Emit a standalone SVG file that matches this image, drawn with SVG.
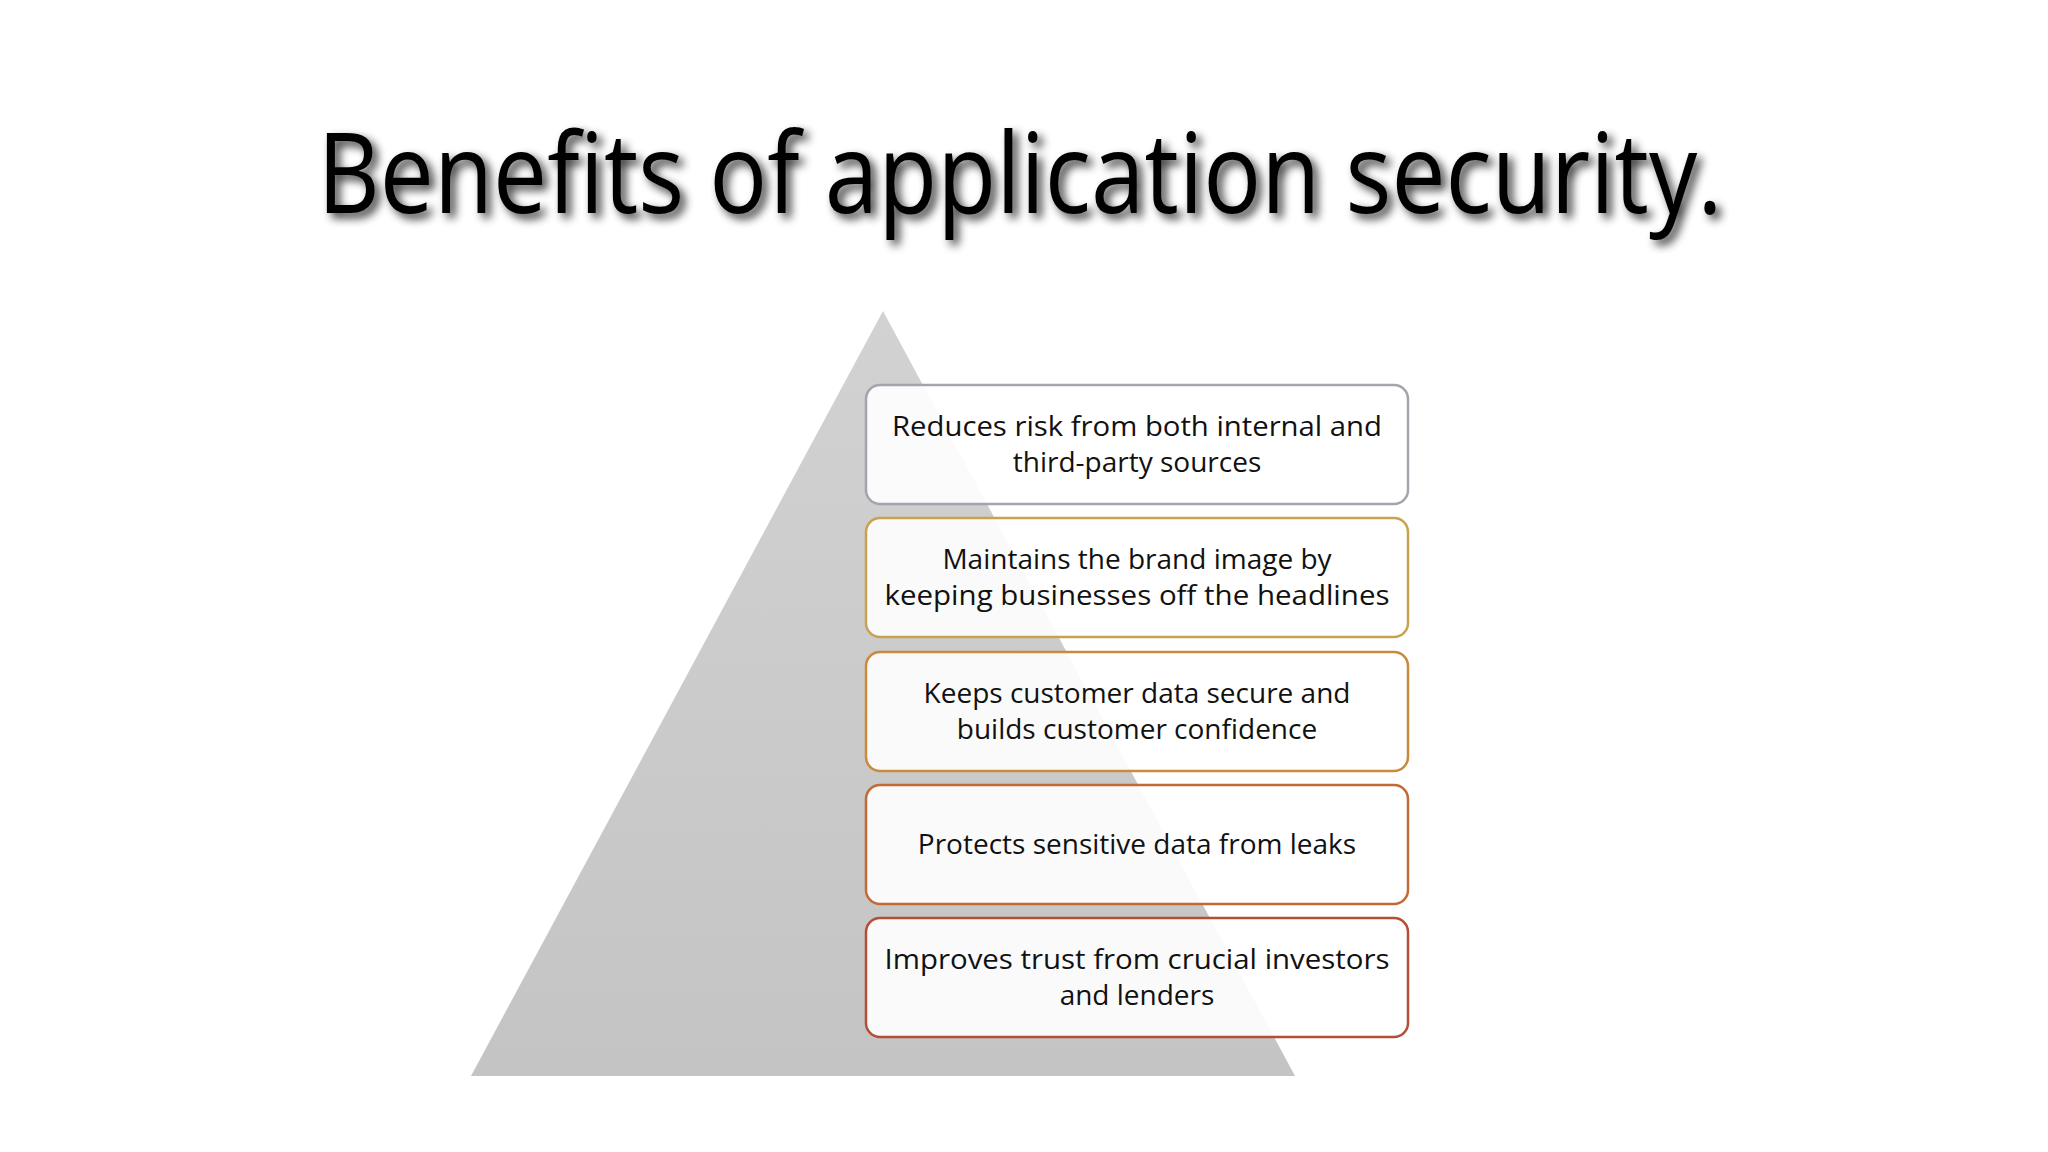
<svg xmlns="http://www.w3.org/2000/svg" width="2048" height="1152" viewBox="0 0 2048 1152">
<defs>
<filter id="sh" x="-10%" y="-30%" width="120%" height="160%"><feGaussianBlur in="SourceAlpha" stdDeviation="5"/><feOffset dx="5" dy="5"/><feComponentTransfer><feFuncA type="linear" slope="0.8"/></feComponentTransfer><feMerge><feMergeNode/><feMergeNode in="SourceGraphic"/></feMerge></filter>
<linearGradient id="tri" x1="0" y1="0" x2="0" y2="1"><stop offset="0" stop-color="#d2d2d2"/><stop offset="1" stop-color="#c4c4c4"/></linearGradient>
</defs>
<style>
.box{fill:#ffffff;fill-opacity:0.9;stroke-width:2.5}
.t{font-family:"Open Sans","Noto Sans",sans-serif;font-size:28px;fill:#111;text-anchor:middle}
</style>
<rect width="2048" height="1152" fill="#fff"/>
<text x="1020" y="213" font-family="Open Sans,Noto Sans,sans-serif" font-size="112" text-anchor="middle" textLength="1405" lengthAdjust="spacingAndGlyphs" filter="url(#sh)" fill="#000">Benefits of application security.</text>
<polygon id="pyramid" points="883,311 1295,1076 471,1076" fill="url(#tri)"/>
<g id="connectors"/>
<g id="n1"><rect class="box" x="866" y="385" width="542" height="119" rx="14" stroke="#a4a4ac" fill="#fafafc"/><text class="t" x="1137" y="436" textLength="490" lengthAdjust="spacingAndGlyphs">Reduces risk from both internal and</text><text class="t" x="1137" y="472">third-party sources</text></g>
<g id="n2"><rect class="box" x="866" y="518" width="542" height="119" rx="14" stroke="#c9a24e"/><text class="t" x="1137" y="569">Maintains the brand image by</text><text class="t" x="1137" y="605" textLength="505" lengthAdjust="spacingAndGlyphs">keeping businesses off the headlines</text></g>
<g id="n3"><rect class="box" x="866" y="652" width="542" height="119" rx="14" stroke="#c98a3c"/><text class="t" x="1137" y="703">Keeps customer data secure and</text><text class="t" x="1137" y="739">builds customer confidence</text></g>
<g id="n4"><rect class="box" x="866" y="785" width="542" height="119" rx="14" stroke="#c26a36"/><text class="t" x="1137" y="854">Protects sensitive data from leaks</text></g>
<g id="n5"><rect class="box" x="866" y="918" width="542" height="119" rx="14" stroke="#b44e34"/><text class="t" x="1137" y="969" textLength="505" lengthAdjust="spacingAndGlyphs">Improves trust from crucial investors</text><text class="t" x="1137" y="1005">and lenders</text></g>
</svg>
